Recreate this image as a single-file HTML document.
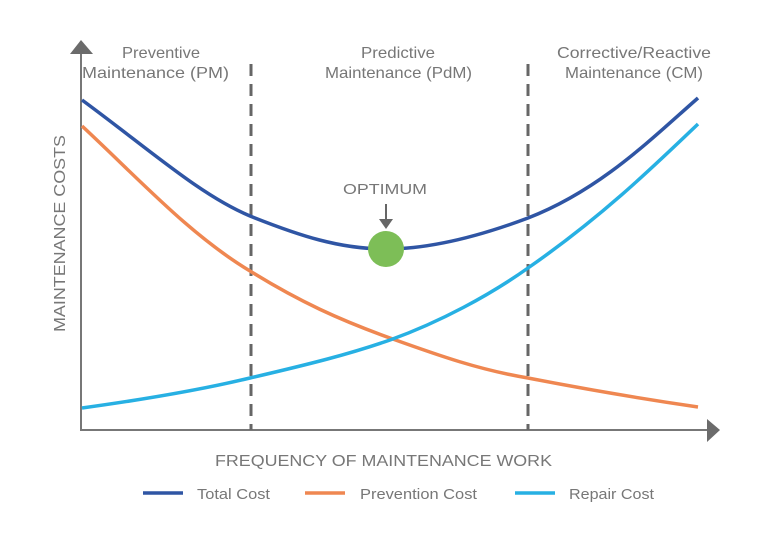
<!DOCTYPE html>
<html><head><meta charset="utf-8"><style>
html,body{margin:0;padding:0;background:#fff;}
svg{display:block;}
text{font-family:"Liberation Sans",sans-serif;fill:#777;}
</style></head><body>
<svg width="768" height="533" viewBox="0 0 768 533" xmlns="http://www.w3.org/2000/svg">
<line x1="81" y1="52" x2="81" y2="431" stroke="#777" stroke-width="2"/>
<polygon points="81,40 70,54 93,54" fill="#6b6b6b"/>
<line x1="80" y1="430" x2="708" y2="430" stroke="#777" stroke-width="2"/>
<polygon points="720,430 707,419 707,442" fill="#6b6b6b"/>
<line x1="251" y1="64" x2="251" y2="430" stroke="#666" stroke-width="3" stroke-dasharray="12,8"/>
<line x1="528" y1="64" x2="528" y2="430" stroke="#666" stroke-width="3" stroke-dasharray="12,8"/>
<text x="122" y="58" font-size="16" textLength="78" lengthAdjust="spacingAndGlyphs">Preventive</text>
<text x="82" y="78" font-size="16" textLength="147" lengthAdjust="spacingAndGlyphs">Maintenance (PM)</text>
<text x="361" y="58" font-size="16" textLength="74" lengthAdjust="spacingAndGlyphs">Predictive</text>
<text x="325" y="78" font-size="16" textLength="147" lengthAdjust="spacingAndGlyphs">Maintenance (PdM)</text>
<text x="557" y="58" font-size="16" textLength="154" lengthAdjust="spacingAndGlyphs">Corrective/Reactive</text>
<text x="565" y="78" font-size="16" textLength="138" lengthAdjust="spacingAndGlyphs">Maintenance (CM)</text>
<path d="M82,100 C150,150 200,195 250,216 C300,236 340,249 386,249 C430,249 480,236 528,218 C600,190 650,140 698,98" fill="none" stroke="#2f55a4" stroke-width="3.5"/>
<path d="M82,126 C140,180 190,235 250,271 C300,302 340,320 390,338 C440,356 480,370 528,378 C600,392 650,400 698,407" fill="none" stroke="#ef8751" stroke-width="3.5"/>
<path d="M82,408 C140,400 200,390 250,378 C310,364 350,354 390,340 C440,322 490,295 528,268 C600,218 650,170 698,124" fill="none" stroke="#27b0e3" stroke-width="3.5"/>
<text x="343" y="194" font-size="15" textLength="84" lengthAdjust="spacingAndGlyphs">OPTIMUM</text>
<line x1="386" y1="204" x2="386" y2="222" stroke="#666" stroke-width="2"/>
<polygon points="386,229 379,219 393,219" fill="#666"/>
<circle cx="386" cy="249" r="18" fill="#7dbe57"/>
<text x="215" y="466" font-size="16" textLength="337" lengthAdjust="spacingAndGlyphs">FREQUENCY OF MAINTENANCE WORK</text>
<text transform="translate(65,332) rotate(-90)" font-size="16" textLength="197" lengthAdjust="spacingAndGlyphs">MAINTENANCE COSTS</text>
<line x1="143" y1="493" x2="183" y2="493" stroke="#2f55a4" stroke-width="3.5"/>
<text x="197" y="499" font-size="15" textLength="73" lengthAdjust="spacingAndGlyphs">Total Cost</text>
<line x1="305" y1="493" x2="345" y2="493" stroke="#ef8751" stroke-width="3.5"/>
<text x="360" y="499" font-size="15" textLength="117" lengthAdjust="spacingAndGlyphs">Prevention Cost</text>
<line x1="515" y1="493" x2="555" y2="493" stroke="#27b0e3" stroke-width="3.5"/>
<text x="569" y="499" font-size="15" textLength="85" lengthAdjust="spacingAndGlyphs">Repair Cost</text>
</svg>
</body></html>
